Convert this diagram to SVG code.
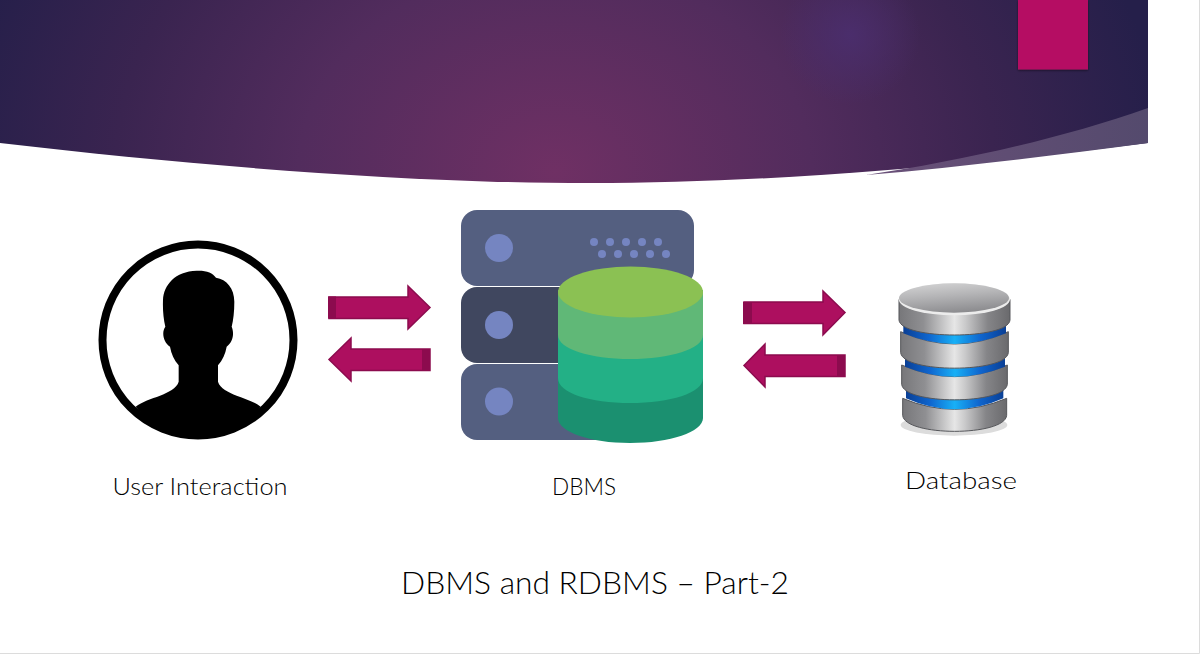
<svg xmlns="http://www.w3.org/2000/svg" width="1200" height="654" viewBox="0 0 1200 654">
<style>
.t{font-family:"Lato","Liberation Sans",sans-serif;font-weight:300;fill:#000}
.arrow{fill:#ad0f5f;stroke:#8c0b4e;stroke-width:1.5}
.tail{fill:#8c0b4e}
.srv{fill:#545f80}
.led{fill:#7585c1}
.metal{fill:url(#metal);stroke:#55565a;stroke-width:3;stroke-linejoin:round}
.band{fill:url(#blue)}
</style>
<defs>
<radialGradient id="bg" gradientUnits="userSpaceOnUse" cx="555" cy="172" r="610" gradientTransform="translate(555 172) scale(1 .8) translate(-555 -172)">
<stop offset="0" stop-color="#6f3064"/><stop offset=".42" stop-color="#522c5d"/><stop offset=".72" stop-color="#3a2450"/><stop offset="1" stop-color="#251f4a"/>
</radialGradient>
<radialGradient id="glow" gradientUnits="userSpaceOnUse" cx="850" cy="35" r="70">
<stop offset="0" stop-color="#4b2e6e" stop-opacity=".9"/><stop offset="1" stop-color="#4b2e6e" stop-opacity="0"/>
</radialGradient>
<linearGradient id="sweep" x1="0" x2="1" y1="0" y2="0">
<stop offset="0" stop-color="#6a5079"/><stop offset="1" stop-color="#544a6d"/>
</linearGradient>
<linearGradient id="metal" x1="0" x2="1" y1="0" y2="0">
<stop offset="0" stop-color="#77777a"/><stop offset=".22" stop-color="#8f8f92"/><stop offset=".5" stop-color="#e6e6e6"/><stop offset=".6" stop-color="#c9c9ca"/><stop offset=".8" stop-color="#858588"/><stop offset="1" stop-color="#6a6a6d"/>
</linearGradient>
<linearGradient id="cap" x1="0.2" x2=".5" y1="0" y2="1">
<stop offset="0" stop-color="#d2d2d3"/><stop offset=".45" stop-color="#b4b4b6"/><stop offset="1" stop-color="#8c8c8f"/>
</linearGradient>
<linearGradient id="blue" x1="0" x2="1" y1="0" y2="0">
<stop offset="0" stop-color="#0a3f95"/><stop offset=".25" stop-color="#0f66cf"/><stop offset=".5" stop-color="#18b0f6"/><stop offset=".75" stop-color="#0f66cf"/><stop offset="1" stop-color="#0a3f95"/>
</linearGradient>
<filter id="sh" x="-10%" y="-10%" width="120%" height="120%"><feDropShadow dx="0" dy="1" stdDeviation="1" flood-color="#000" flood-opacity=".5"/></filter>
</defs>
<rect width="1200" height="654" fill="#fff"/>
<path d="M1199.500 0V653.500H0" fill="none" stroke="#dcdcdc" stroke-width="1"/>
<g id="banner">
<path d="M0 0H1148V143C950 168 760 183 590 183C400 183 190 165 0 143Z" fill="url(#bg)"/>
<path d="M0 0H1148V143C950 168 760 183 590 183C400 183 190 165 0 143Z" fill="url(#glow)"/>
<path d="M866 175C960 161 1060 139 1148 108V143C1050 156 960 167 866 175Z" fill="url(#sweep)"/>
<rect x="1018" y="0" width="70" height="69.500" fill="#b50f63" filter="url(#sh)"/>
</g>
<g id="user-interaction">
<circle cx="198" cy="340" r="95.500" fill="#fff" stroke="#000" stroke-width="8"/>
<path transform="translate(80 230) scale(.33333)" d="M350 122C380 121 398 128 408 143C440 148 463 175 463 215C463 245 460 270 455 290C462 305 462 335 440 350C436 372 428 390 414 406V455C420 475 445 487 470 497C495 506 525 516 542 530C495 590 425 626 355 626C285 626 215 590 167 530C185 516 215 506 240 497C265 487 290 475 296 455V406C282 390 274 372 270 350C248 335 245 305 256 290C250 265 248 240 249 210C251 165 285 124 350 122Z" fill="#000"/>
<text class="t" x="200" y="495" font-size="24" text-anchor="middle" textLength="175" lengthAdjust="spacingAndGlyphs">User Interaction</text>
</g>
<g id="dbms">
<rect class="srv" x="461" y="210" width="233" height="76" rx="16"/>
<rect x="461" y="287" width="110" height="76" rx="16" fill="#40475f"/>
<rect x="500" y="287" width="80" height="76" fill="#40475f"/>
<rect class="srv" x="461" y="364" width="150" height="76" rx="16"/>
<circle class="led" cx="499" cy="248" r="14"/>
<circle class="led" cx="499" cy="325" r="14"/>
<circle class="led" cx="499" cy="401.500" r="14"/>
<g class="led">
<circle cx="594" cy="242" r="4"/><circle cx="610" cy="242" r="4"/><circle cx="626" cy="242" r="4"/><circle cx="642" cy="242" r="4"/><circle cx="658" cy="242" r="4"/>
<circle cx="602" cy="254" r="4"/><circle cx="618" cy="254" r="4"/><circle cx="634" cy="254" r="4"/><circle cx="650" cy="254" r="4"/><circle cx="666" cy="254" r="4"/>
</g>
<path d="M558 418V290H703V418C703 432 670 443 630 443C590 443 558 432 558 418Z" fill="#1b9070"/>
<path d="M558 378V336H703V378C703 393 670 403 630 403C590 403 558 393 558 378Z" fill="#23b086"/>
<path d="M558 335V290H703V335C703 349 670 359 630 359C590 359 558 349 558 335Z" fill="#60b877"/>
<ellipse cx="630.500" cy="292" rx="72.500" ry="25.500" fill="#8bc153"/>
<text class="t" x="584" y="495" font-size="24" text-anchor="middle" textLength="64" lengthAdjust="spacingAndGlyphs">DBMS</text>
</g>
<g id="database">
<g transform="translate(730 270) scale(.33333)">
<ellipse cx="672" cy="465" rx="160" ry="32" fill="#dcdcdc"/>
<path class="metal" d="M518 385Q674 451 830 385V436C825 500 523 500 518 436Z"/>
<path class="band" d="M528 340V385Q674 451 820 385V340Z"/>
<path class="metal" d="M515 285Q674 355 832 285V343C825 405 522 405 515 343Z"/>
<path class="band" d="M525 245V290Q674 350 825 290V245Z"/>
<path class="metal" d="M512 185Q674 259 835 185V248C828 310 519 310 512 248Z"/>
<path class="band" d="M520 150V190Q674 254 828 190V150Z"/>
<path class="metal" d="M507 88H840V150C835 210 512 210 507 150Z"/>
<ellipse cx="673" cy="88" rx="167" ry="48" fill="#ececec"/>
<ellipse cx="672" cy="84" rx="165" ry="44" fill="url(#cap)"/>
</g>
<text class="t" x="961" y="489" font-size="24" text-anchor="middle" textLength="112" lengthAdjust="spacingAndGlyphs">Database</text>
</g>
<g id="connectors">
<path class="arrow" d="M329 297H408V286L430 307.500L408 329V318.500H329Z"/><rect class="tail" x="328" y="296.500" width="8" height="22"/>
<path class="arrow" d="M430 349H351V338L329 359.500L351 381V370.500H430Z"/><rect class="tail" x="422" y="349" width="8" height="22"/>
<path class="arrow" d="M744 302H823V291L845 312.500L823 335V323.500H744Z"/><rect class="tail" x="743" y="302" width="9" height="22"/>
<path class="arrow" d="M845 355H765V344L744 365.500L765 387V376.500H845Z"/><rect class="tail" x="837" y="355" width="8" height="22"/>
</g>
<text id="caption" class="t" x="595" y="594" font-size="31" text-anchor="middle" textLength="388" lengthAdjust="spacingAndGlyphs">DBMS and RDBMS – Part-2</text>
</svg>
